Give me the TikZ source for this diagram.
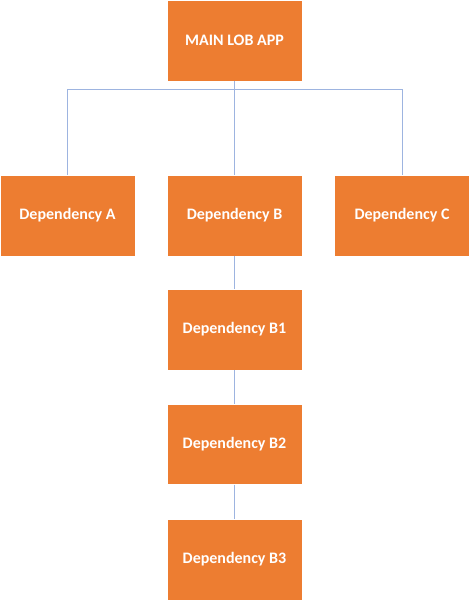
\documentclass[tikz,border=0pt]{standalone}
\usepackage{fontspec}
\setmainfont{Carlito}
\definecolor{boxorange}{HTML}{ED7D31}
\definecolor{linkblue}{HTML}{9DB4E0}
\begin{document}
\begin{tikzpicture}[x=1pt,y=-1pt,
  dep/.style={rectangle, fill=boxorange, draw=white, line width=0.5pt,
    minimum width=135pt, minimum height=80.5pt, inner sep=0pt,
    text=white, font=\fontsize{16}{19}\selectfont\bfseries},
  link/.style={draw=linkblue, line width=1pt}]
\useasboundingbox (0,0) rectangle (470,600);
\fill[white] (0,0) rectangle (470,600);
\node[dep] (main) at (234.5,40.5) {MAIN LOB APP};
\node[dep] (depa) at (67.5,215.5) {Dependency A};
\node[dep] (depb) at (234.5,215.5) {Dependency B};
\node[dep] (depc) at (402,215.5) {Dependency C};
\node[dep] (depb1) at (234.5,329.5) {Dependency B1};
\node[dep] (depb2) at (234.5,444) {Dependency B2};
\node[dep] (depb3) at (234.5,559.5) {Dependency B3};
\coordinate (bus) at (234.5,89);
\path[link] (main.south) -- (depb.north);
\path[link] (bus) -| (depa.north);
\path[link] (bus) -| (depc.north);
\path[link] (depb.south) -- (depb1.north);
\path[link] (depb1.south) -- (depb2.north);
\path[link] (depb2.south) -- (depb3.north);
\end{tikzpicture}
\end{document}
